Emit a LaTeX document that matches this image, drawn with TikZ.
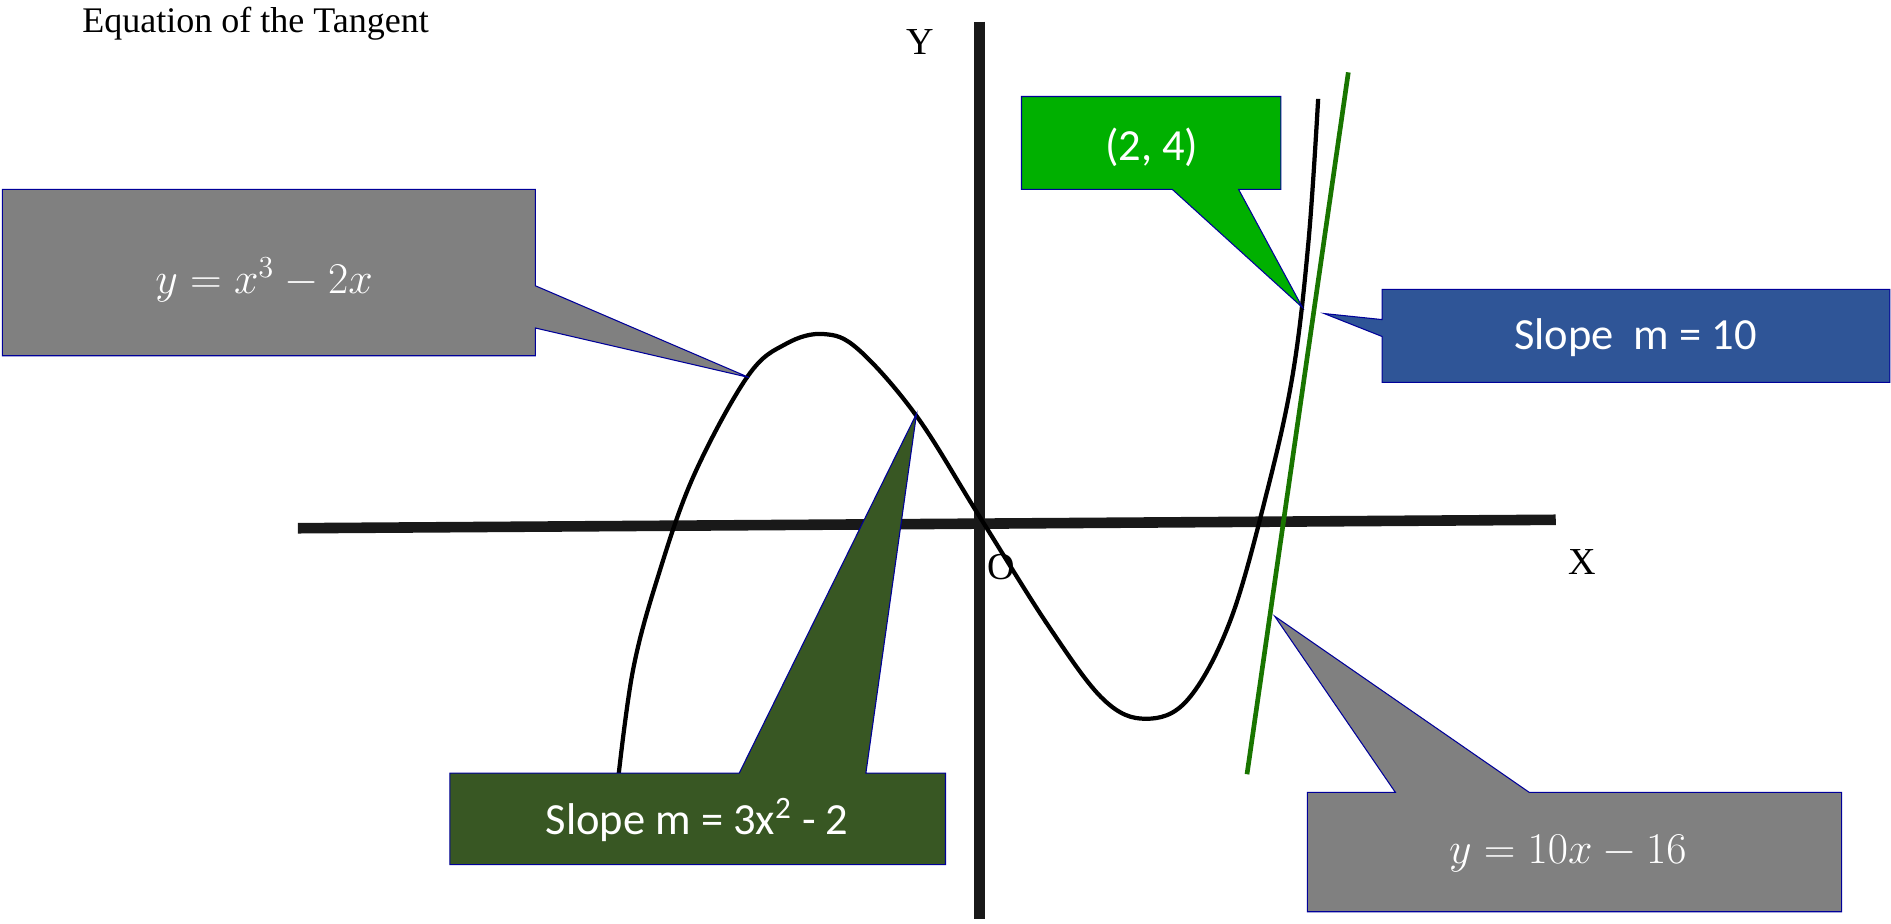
\documentclass[tikz,border=0pt]{standalone}
\usepackage{amsmath}
\usepackage{fontspec}
\setmainfont{Liberation Serif}
\newfontfamily\calfnt{Carlito}
\begin{document}
\begin{tikzpicture}[x=0.02cm,y=-0.02cm,
  callout/.style={draw=blue!60!black,line width=0.5pt},
  lbl/.style={text=white,font=\calfnt\fontsize{21}{24}\selectfont},
  mlbl/.style={text=white,font=\fontsize{22}{26}\selectfont}]
\useasboundingbox (0,0) rectangle (1568,766);
\node[anchor=west,font=\fontsize{17}{20}\selectfont] (title) at (62,20) {Equation of the Tangent};
% axes
\coordinate (ytop) at (812,18); \coordinate (ybot) at (812,762);
\coordinate (xl) at (247,438); \coordinate (xr) at (1290,431);
\draw[line width=5pt,black!90] (ytop) -- (ybot);
\draw[line width=5pt,black!90] (xl) -- (xr);
\node[font=\fontsize{18}{20}\selectfont] (Y) at (763,35) {Y};
\node[font=\fontsize{18}{20}\selectfont] (X) at (1312,466) {X};
\node[font=\fontsize{18}{20}\selectfont] (O) at (830,470) {O};
% curve
\draw[line width=2pt,line join=round] plot[smooth,tension=0.6] coordinates
 {(513,642) (525,555) (545,480) (575,395) (620,312) (652,285) (683,277) (712,290) (760,345) (812,428) (870,520) (915,580) (950,596) (985,580) (1020,515) (1050,410) (1072,310) (1085,200) (1093,82)};
% tangent
\coordinate (t1) at (1118,60); \coordinate (t2) at (1034,642);
\draw[line width=2.2pt,green!45!black!80!olive] (t1) -- (t2);
% callouts
\draw[callout,fill=gray] (2,157) -- (444,157) -- (444,237) -- (621,313) -- (444,272) -- (444,295) -- (2,295) -- cycle;
\node[mlbl] (c1) at (219,232) {$y = x^3 - 2x$};
\draw[callout,fill=green!69!black] (847,80) -- (1062,80) -- (1062,157) -- (1027,157) -- (1080,255) -- (972,157) -- (847,157) -- cycle;
\node[lbl] (c2) at (955,122) {(2, 4)};
\draw[callout,fill={rgb,255:red,47;green,85;blue,151}] (1146,240) -- (1567,240) -- (1567,317) -- (1146,317) -- (1146,279) -- (1098,260) -- (1146,265) -- cycle;
\node[lbl] (c3) at (1356,280) {Slope\ \ m = 10};
\draw[callout,fill={rgb,255:red,56;green,87;blue,35}] (373,641) -- (613,641) -- (760,343) -- (718,641) -- (784,641) -- (784,717) -- (373,717) -- cycle;
\node[lbl] (c4) at (578,680) {Slope m = 3x\textsuperscript{2} - 2};
\draw[callout,fill=gray] (1084,657) -- (1157,657) -- (1057,511) -- (1268,657) -- (1527,657) -- (1527,756) -- (1084,756) -- cycle;
\node[mlbl] (c5) at (1300,708) {$y = 10x - 16$};
\end{tikzpicture}
\end{document}
